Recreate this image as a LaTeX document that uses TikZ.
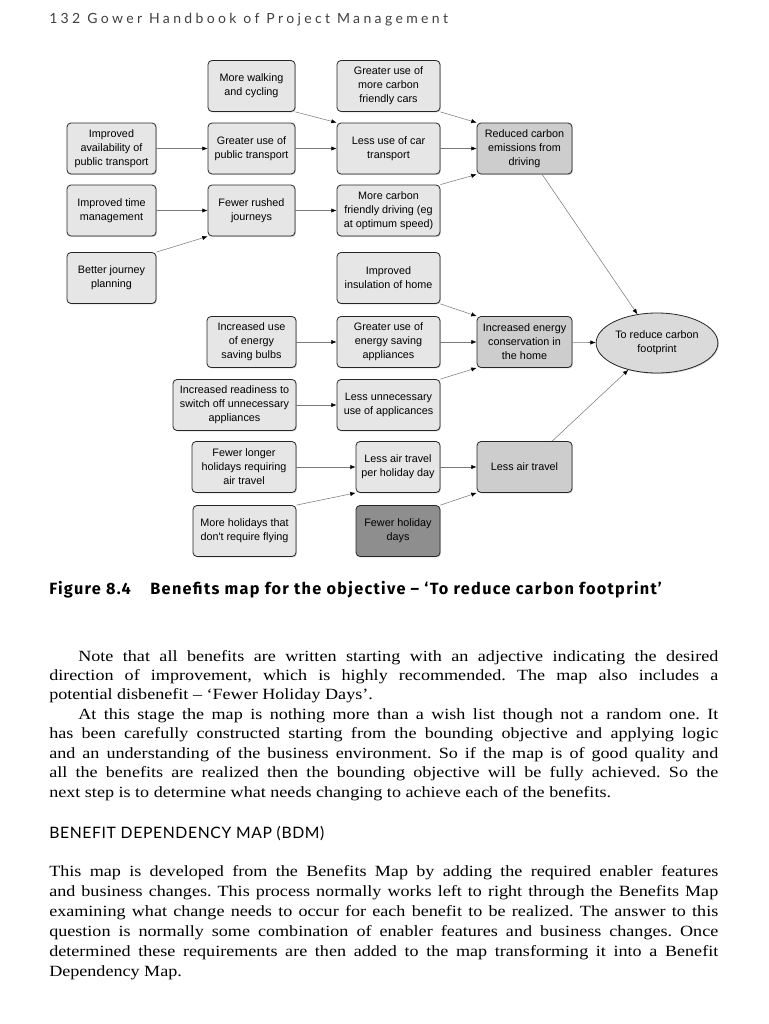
\documentclass[tikz,border=0pt]{standalone}
\usepackage{fontspec}
\setmainfont{Liberation Serif}[FakeStretch=1.16]
\newfontfamily\diagfont{Liberation Sans}
\newfontfamily\headfont{Lato}[LetterSpace=24]
\newfontfamily\secfont{Lato}[LetterSpace=4]
\newfontfamily\capfont{Fira Sans}[Ligatures=TeX,LetterSpace=8]
\usetikzlibrary{shapes,arrows.meta,shadows}
\setlength{\parindent}{0pt}
\frenchspacing

\definecolor{boxfill}{HTML}{E6E6E6}
\definecolor{midfill}{HTML}{CDCDCD}
\definecolor{darkfill}{HTML}{8E8E8E}
\definecolor{linkgray}{HTML}{7A7A7A}

\newcommand{\bodytext}{\fontsize{11.7pt}{14.6pt}\selectfont}

\tikzset{
  benefit/.style={draw=black!85, fill=boxfill, rounded corners=3pt, line width=0.6pt,
    align=center, font={\diagfont\fontsize{8.1pt}{10.5pt}\selectfont}, inner sep=1pt,
    minimum height=38.25pt,
    drop shadow={shadow xshift=0.7pt, shadow yshift=-0.7pt, opacity=0.3, fill=black!60}},
  link/.style={-{Latex[length=4pt,width=3.2pt,color=black]}, draw=linkgray, line width=0.4pt},
  para/.style={anchor=base west, inner sep=0pt, text width=501.75pt, align=justify},
}

\begin{document}
\begin{tikzpicture}[x=0.75pt,y=-0.75pt]
  \useasboundingbox (0,0) rectangle (768,1024);
  \fill[white] (0,0) rectangle (768,1024);

  % columns and rows of the map (pixels)
  \pgfmathsetmacro\colA{111.5}
  \pgfmathsetmacro\colB{251.5}
  \pgfmathsetmacro\colC{388.5}
  \pgfmathsetmacro\colD{524.5}
  \pgfmathsetmacro\rowA{86}
  \pgfmathsetmacro\rowB{148.5}
  \pgfmathsetmacro\rowC{210.5}
  \pgfmathsetmacro\rowD{278}
  \pgfmathsetmacro\rowE{342}
  \pgfmathsetmacro\rowF{405}
  \pgfmathsetmacro\rowG{467}
  \pgfmathsetmacro\rowH{531}

% page header
  \node[anchor=base west, inner sep=0pt, text=black!75,
        font={\headfont\fontsize{10.5pt}{12pt}\selectfont}] (header) at (49,24)
        {132\hspace{0.5em}Gower Handbook of Project Management};

% driving
  \node[benefit, minimum width=65.25pt] (walking) at (\colB,\rowA) {More walking\\and cycling};
  \node[benefit, minimum width=77.25pt] (cleancars) at (\colC,\rowA) {Greater use of\\more carbon\\friendly cars};
  \node[benefit, minimum width=66.75pt] (availability) at (\colA,\rowB) {Improved\\availability of\\public transport};
  \node[benefit, minimum width=65.25pt] (publicuse) at (\colB,\rowB) {Greater use of\\public transport};
  \node[benefit, minimum width=77.25pt] (lesscar) at (\colC,\rowB) {Less use of car\\transport};
  \node[benefit, fill=midfill, minimum width=71.25pt] (driving) at (\colD,\rowB) {Reduced carbon\\emissions from\\driving};
  \node[benefit, minimum width=66.75pt] (timemgmt) at (\colA,\rowC) {Improved time\\management};
  \node[benefit, minimum width=65.25pt] (rushed) at (\colB,\rowC) {Fewer rushed\\journeys};
  \node[benefit, minimum width=77.25pt] (ecodriving) at (\colC,\rowC) {More carbon\\friendly driving (eg\\at optimum speed)};
  \node[benefit, minimum width=66.75pt] (planning) at (\colA,\rowD) {Better journey\\planning};

% home
  \node[benefit, minimum width=77.25pt] (insulation) at (\colC,\rowD) {Improved\\insulation of home};
  \node[benefit, minimum width=66.75pt] (bulbs) at (\colB,\rowE) {Increased use\\of energy\\saving bulbs};
  \node[benefit, minimum width=77.25pt] (appliances) at (\colC,\rowE) {Greater use of\\energy saving\\appliances};
  \node[benefit, fill=midfill, minimum width=71.25pt] (home) at (\colD,\rowE) {Increased energy\\conservation in\\the home};
  \node[benefit, minimum width=92.25pt] (readiness) at (234.5,\rowF) {Increased readiness to\\switch off unnecessary\\appliances};
  \node[benefit, minimum width=77.25pt] (lessuse) at (\colC,\rowF) {Less unnecessary\\use of applicances};

% holidays
  \node[benefit, minimum width=78pt] (longer) at (244,\rowG) {Fewer longer\\holidays requiring\\air travel};
  \node[benefit, minimum width=63pt] (perday) at (398,\rowG) {Less air travel\\per holiday day};
  \node[benefit, fill=midfill, minimum width=71.25pt] (airtravel) at (\colD,\rowG) {Less air travel};
  \node[benefit, minimum width=77.25pt] (noflying) at (244.5,\rowH) {More holidays that\\don't require flying};
  \node[benefit, fill=darkfill, minimum width=63pt] (holidays) at (398,\rowH) {Fewer holiday\\days};

% objective
  \node[benefit, ellipse, fill=boxfill!95!black, minimum width=75pt, minimum height=45pt] (objective) at (657,343) {To reduce carbon\\footprint};

% links
  \draw[link] (availability) -- (publicuse);
  \draw[link] (publicuse) -- (lesscar);
  \draw[link] (walking.south east) -- (lesscar.north west);
  \draw[link] (timemgmt) -- (rushed);
  \draw[link] (planning.north east) -- (rushed.south west);
  \draw[link] (rushed) -- (ecodriving);
  \draw[link] (cleancars.south east) -- (driving.north west);
  \draw[link] (lesscar) -- (driving);
  \draw[link] (ecodriving.north east) -- (driving.south west);
  \draw[link] (driving) -- (objective);
  \draw[link] (insulation.south east) -- (home.north west);
  \draw[link] (bulbs) -- (appliances);
  \draw[link] (appliances) -- (home);
  \draw[link] (readiness) -- (lessuse);
  \draw[link] (lessuse.north east) -- (home.south west);
  \draw[link] (home) -- (objective);
  \draw[link] (longer) -- (perday);
  \draw[link] (noflying.north east) -- (perday.south west);
  \draw[link] (perday) -- (airtravel);
  \draw[link] (holidays.north east) -- (airtravel.south west);
  \draw[link] (airtravel) -- (objective);

% caption
  \node[anchor=base west, inner sep=0pt,
        font={\capfont\bfseries\fontsize{12.2pt}{14pt}\selectfont}] (caption) at (49,594)
        {Figure 8.4\hspace{1.2em}Benefits map for the objective -- `To reduce carbon footprint'};

% body text
  \node[para, font=\bodytext] (para1) at (49,661)
    {\hspace*{21.75pt}Note that all benefits are written starting with an adjective indicating the desired\linebreak
     direction of improvement, which is highly recommended. The map also includes a\linebreak
     potential disbenefit -- `Fewer Holiday Days'.};
  \node[para, font=\bodytext] (para2) at (49,719.5)
    {\hspace*{21.75pt}At this stage the map is nothing more than a wish list though not a random one. It\linebreak
     has been carefully constructed starting from the bounding objective and applying logic\linebreak
     and an understanding of the business environment. So if the map is of good quality and\linebreak
     all the benefits are realized then the bounding objective will be fully achieved. So the\linebreak
     next step is to determine what needs changing to achieve each of the benefits.};
  \node[anchor=base west, inner sep=0pt,
        font={\secfont\fontsize{11.8pt}{13pt}\selectfont}] (bdmtitle) at (49,838)
        {BENEFIT DEPENDENCY MAP (BDM)};
  \node[para, font={\fontsize{11.7pt}{15pt}\selectfont}] (para3) at (49,876)
    {This map is developed from the Benefits Map by adding the required enabler features\linebreak
     and business changes. This process normally works left to right through the Benefits Map\linebreak
     examining what change needs to occur for each benefit to be realized. The answer to this\linebreak
     question is normally some combination of enabler features and business changes. Once\linebreak
     determined these requirements are then added to the map transforming it into a Benefit\linebreak
     Dependency Map.};
\end{tikzpicture}
\end{document}
